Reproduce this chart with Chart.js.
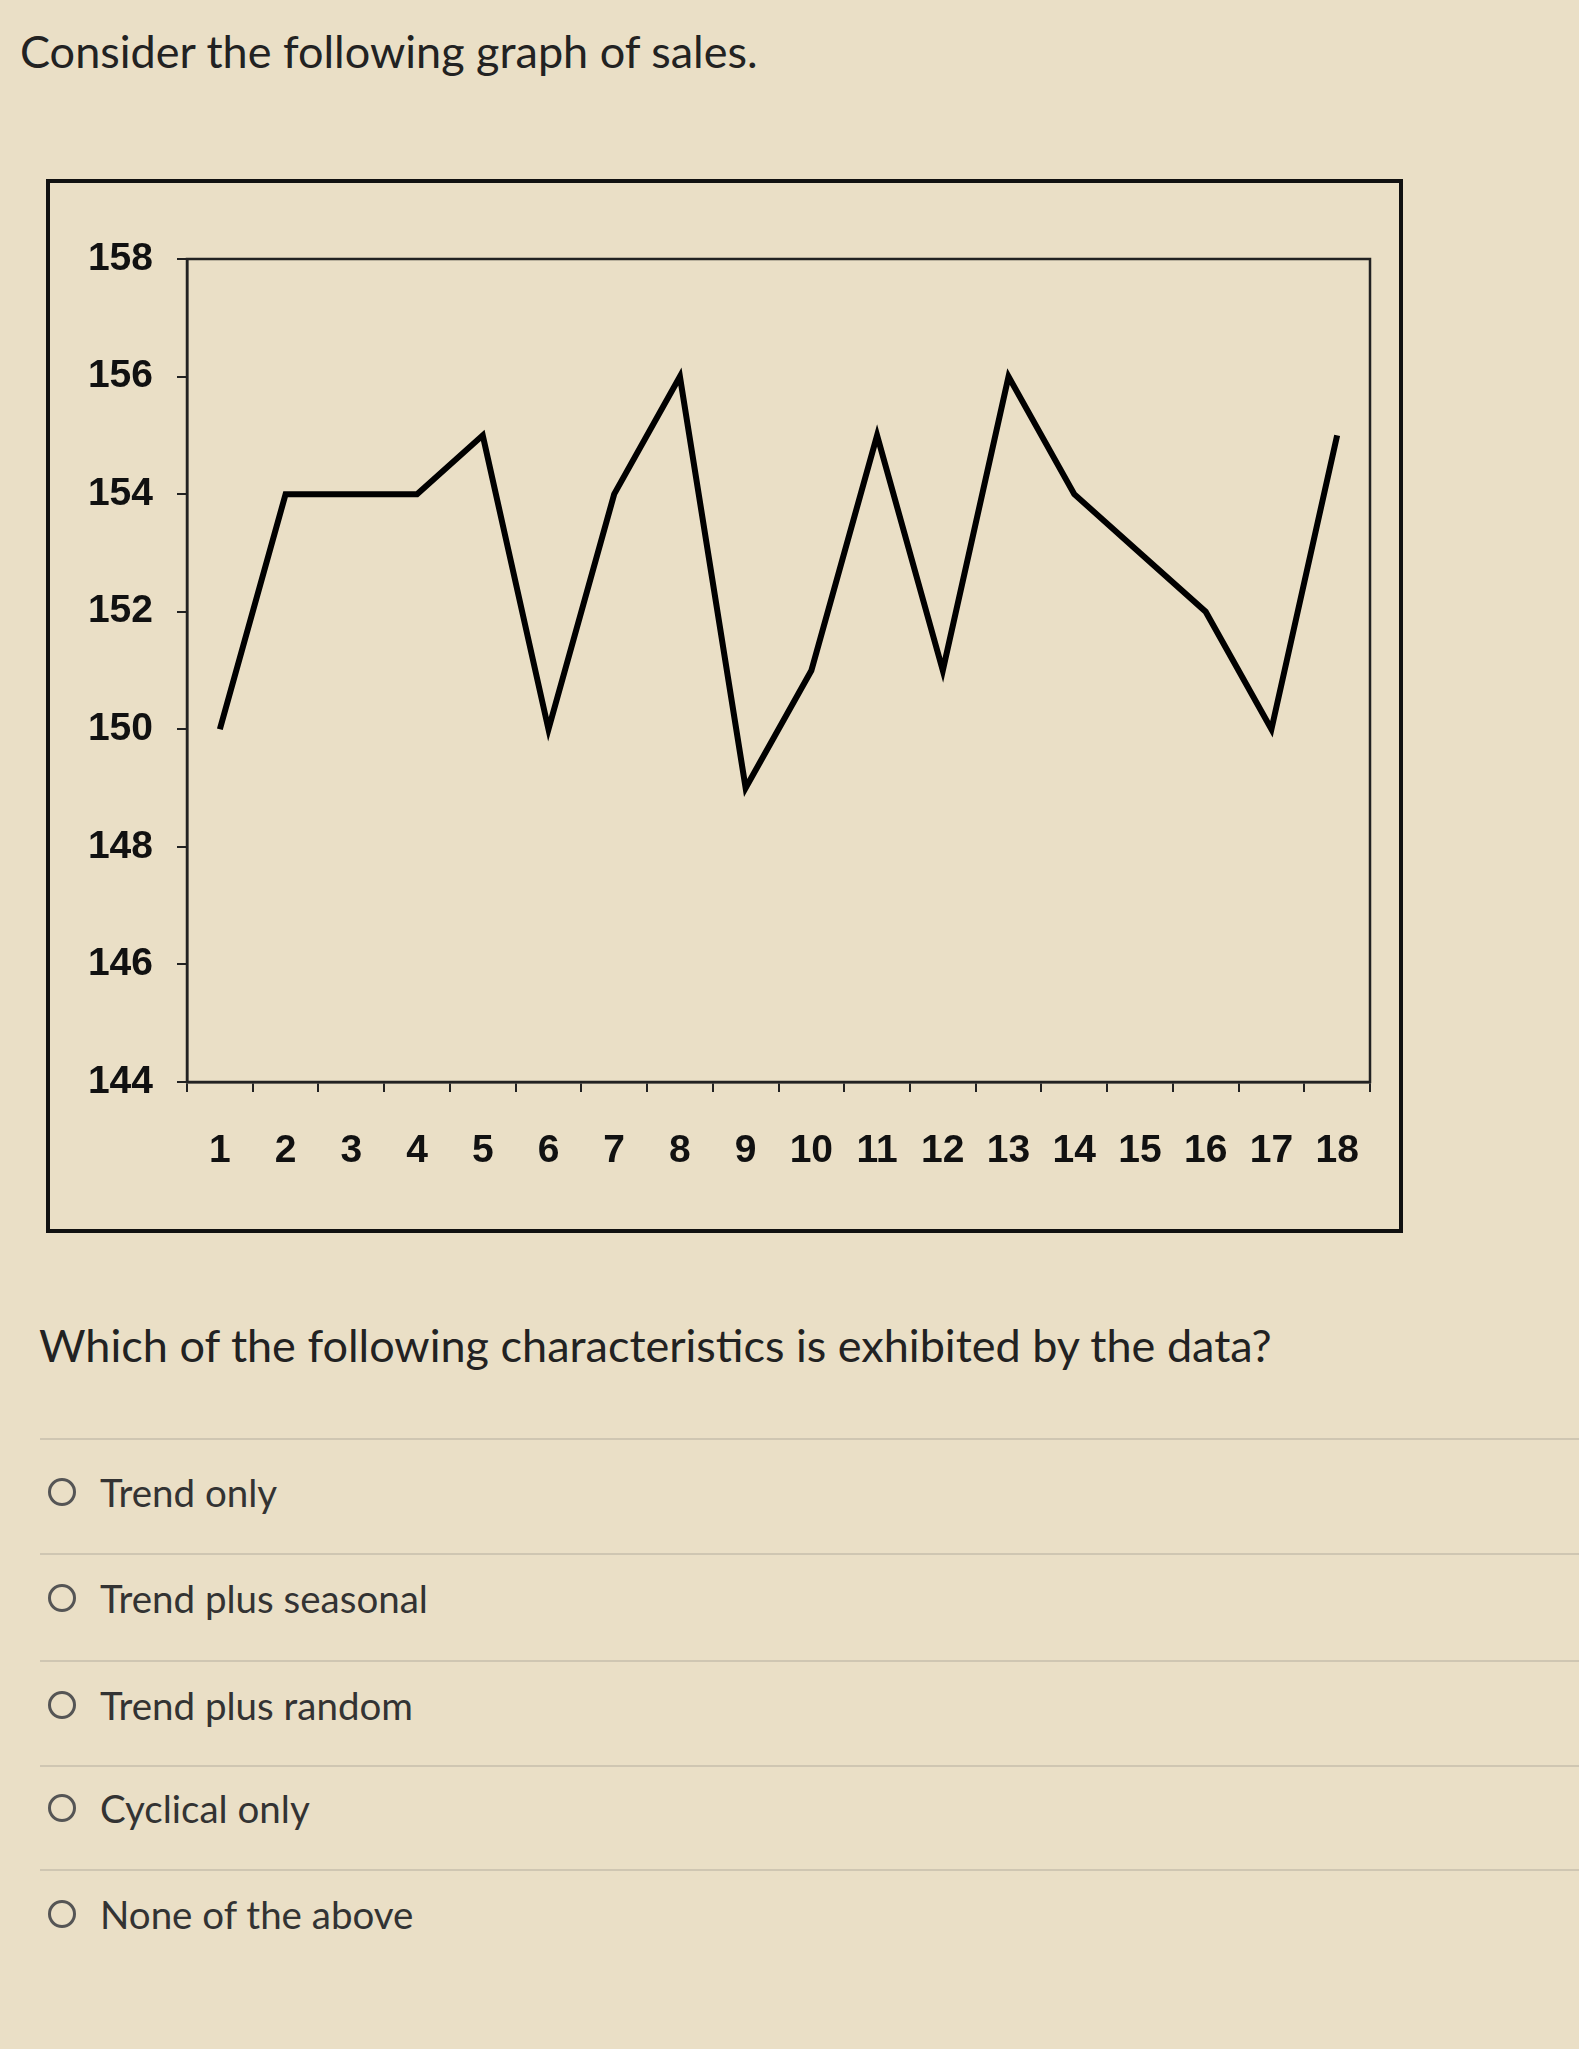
<!DOCTYPE html>
<html>
<head>
<meta charset="utf-8">
<script src="https://cdn.jsdelivr.net/npm/chart.js@4.4.0/dist/chart.umd.min.js"></script>
<style>
  body {
    margin: 0;
    width: 1579px;
    height: 2049px;
    background: #eadfc6;
    font-family: Lato, "Open Sans", sans-serif;
    color: #222;
    position: relative;
    overflow: hidden;
  }
  .title {
    position: absolute;
    left: 20px;
    top: 24px;
    font-size: 45px;
  }
  .frame {
    position: absolute;
    left: 46px;
    top: 179px;
    width: 1349px;
    height: 1046px;
    border: 4px solid #111;
  }
  .question {
    position: absolute;
    left: 39px;
    top: 1318px;
    font-size: 45px;
  }
  .sep {
    position: absolute;
    left: 40px;
    right: 0;
    height: 2px;
    background: #cfc6b2;
  }
  .opt {
    position: absolute;
    left: 48px;
    font-size: 38.5px;
    color: #333;
    display: flex;
    align-items: center;
  }
  .opt span.dot {
    width: 22px;
    height: 22px;
    border: 3px solid #555;
    border-radius: 50%;
    margin-right: 24px;
  }
</style>
</head>
<body>
<div class="title">Consider the following graph of sales.</div>
<div class="frame"><canvas id="js--chart--sales"></canvas></div>
<div class="question">Which of the following characteristics is exhibited by the data?</div>
<div id="options"></div>

<script>
// sales per period
const periods = ["1", "2", "3", "4", "5", "6", "7", "8", "9", "10", "11", "12", "13", "14", "15", "16", "17", "18"];
const sales = [150, 154, 154, 154, 155, 150, 154, 156, 149, 151, 155, 151, 156, 154, 153, 152, 150, 155];

const choices = [
    "Trend only",
    "Trend plus seasonal",
    "Trend plus random",
    "Cyclical only",
    "None of the above",
];

// answer list
const optTops = [1469, 1575, 1682, 1785, 1891];
const sepTops = [1438, 1553, 1660, 1765, 1869];
let html = "";
sepTops.forEach(function (t) {
    html += '<div class="sep" style="top:' + t + 'px"></div>';
});
choices.forEach(function (c, i) {
    html += '<div class="opt" style="top:' + optTops[i] + 'px"><span class="dot"></span>' + c + '</div>';
});
document.getElementById("options").innerHTML = html;

// box round the plot area
const plotBox = {
    id: "plotBox",
    afterDraw(chart) {
        const a = chart.chartArea;
        const ctx = chart.ctx;
        ctx.save();
        ctx.strokeStyle = "#222";
        ctx.lineWidth = 2.5;
        ctx.strokeRect(a.left, a.top, a.right - a.left, a.bottom - a.top);
        ctx.restore();
    }
};

const tickFont = { family: "'Liberation Sans', Arial, sans-serif", size: 39, weight: "bold" };

const data = {
    labels: periods,
    datasets: [{
        label: "Sales",
        data: sales,
        borderColor: "#000",
        borderWidth: 6,
        pointRadius: 0,
        tension: 0,
        fill: false
    }]
};

const config = {
    type: "line",
    data: data,
    plugins: [plotBox],
    options: {
        responsive: false,
        animation: false,
        layout: { padding: { top: 76, right: 29, left: 0, bottom: 0 } },
        plugins: {
            legend: { display: false },
            tooltip: { enabled: false }
        },
        scales: {
            x: {
                offset: true,
                grid: {
                    offset: true,
                    drawOnChartArea: false,
                    tickLength: 10,
                    color: "#222",
                    lineWidth: 2
                },
                border: { color: "#222", width: 2.5 },
                ticks: { color: "#111", font: tickFont, padding: 36, maxRotation: 0, autoSkip: false },
                afterFit(scale) { scale.height = 147; }
            },
            y: {
                min: 144,
                max: 158,
                grid: {
                    drawOnChartArea: false,
                    tickLength: 10,
                    color: "#222",
                    lineWidth: 2
                },
                border: { color: "#222", width: 2.5 },
                ticks: { stepSize: 2, color: "#111", font: tickFont, padding: 24 },
                afterFit(scale) { scale.width = 137; }
            }
        }
    }
};

const canvas = document.getElementById("js--chart--sales");
canvas.width = 1349;
canvas.height = 1046;
const chart1 = new Chart(canvas, config);
</script>
</body>
</html>
